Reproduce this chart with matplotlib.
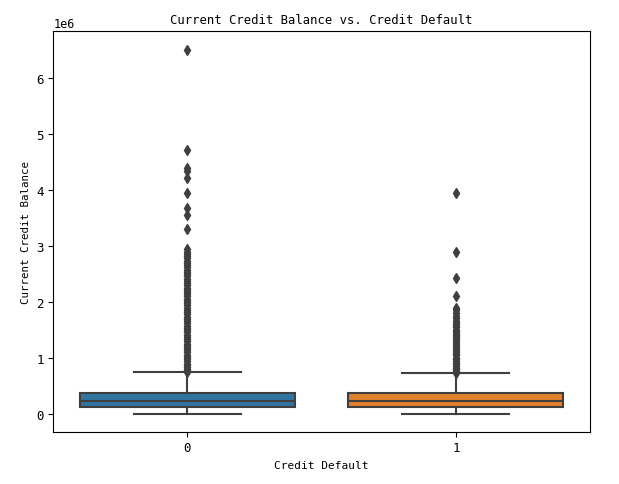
import numpy as np
import matplotlib
matplotlib.use("Agg")
import matplotlib.pyplot as plt

# values (units of 1e6)
categories = ["0", "1"]
box_colors = ["#3274a1", "#e1812c"]

whislo = [0.0, 0.0]
q1 = [0.125, 0.12]
median = [0.215, 0.22]
q3 = [0.375, 0.36]
whishi = [0.745, 0.715]

fliers_0 = [6.50, 4.71, 4.39, 4.33, 4.21, 3.94, 3.67, 3.54, 3.29,
            2.93, 2.89, 2.85, 2.81, 2.77, 2.73, 2.69, 2.65, 2.61, 2.57,
            2.53, 2.49, 2.45, 2.41, 2.37, 2.33, 2.29, 2.25, 2.21, 2.17,
            2.13, 2.09, 2.05, 2.01, 1.97, 1.93, 1.89, 1.85, 1.81, 1.77,
            1.73, 1.69, 1.65, 1.61, 1.57, 1.53, 1.49, 1.45, 1.41, 1.37,
            1.33, 1.29, 1.25, 1.21, 1.17, 1.13, 1.09, 1.05, 1.01, 0.97,
            0.93, 0.89, 0.86, 0.83, 0.80, 0.77, 0.75]
fliers_1 = [3.94, 2.89, 2.42, 2.10,
            1.89, 1.84, 1.79, 1.75, 1.70, 1.66, 1.62, 1.58, 1.54, 1.50,
            1.47, 1.44, 1.41, 1.38, 1.34, 1.31, 1.27, 1.24, 1.21, 1.17,
            1.14, 1.10, 1.07, 1.04, 1.00, 0.97, 0.94, 0.91, 0.88, 0.85,
            0.82, 0.79, 0.76, 0.73]
fliers = [fliers_0, fliers_1]

plt.rcParams['font.family'] = ['DejaVu Sans Mono']

stats = []
for i in range(len(categories)):
    stats.append({
        'label': categories[i],
        'whislo': whislo[i] * 1e6,
        'q1': q1[i] * 1e6,
        'med': median[i] * 1e6,
        'q3': q3[i] * 1e6,
        'whishi': whishi[i] * 1e6,
        'fliers': np.array(fliers[i]) * 1e6,
    })

fig = plt.figure(figsize=(6.19, 4.85), dpi=100)
ax = fig.add_axes([53.3 / 619, 1 - 432.7 / 485, (590 - 53.3) / 619, (432.7 - 32.3) / 485])

line_col = "#3f3f3f"
bp = ax.bxp(stats, positions=[0, 1], widths=0.8, patch_artist=True,
            boxprops=dict(edgecolor=line_col, linewidth=1.5),
            whiskerprops=dict(color=line_col, linewidth=1.5),
            capprops=dict(color=line_col, linewidth=1.5),
            medianprops=dict(color=line_col, linewidth=1.5),
            flierprops=dict(marker='d', markersize=5, markerfacecolor=line_col,
                            markeredgecolor=line_col, linestyle='none'))
for patch, c in zip(bp['boxes'], box_colors):
    patch.set_facecolor(c)
for cap in bp['caps']:
    x = cap.get_xdata()
    mid = x.mean()
    cap.set_xdata([mid - 0.2, mid + 0.2])

ax.set_xlim(-0.5, 1.5)
ax.set_ylim(-0.325e6, 6.825e6)
ax.set_xticks([0, 1])
ax.set_xticklabels(categories)
ax.tick_params(labelsize=9)
ax.yaxis.get_offset_text().set_fontsize(8.5)
ax.set_xlabel("Credit Default", fontsize=8)
ax.set_ylabel("Current Credit Balance", fontsize=7.8)
ax.set_title("Current Credit Balance vs. Credit Default", fontsize=8.8)

fig.savefig("out.png", dpi=100)
